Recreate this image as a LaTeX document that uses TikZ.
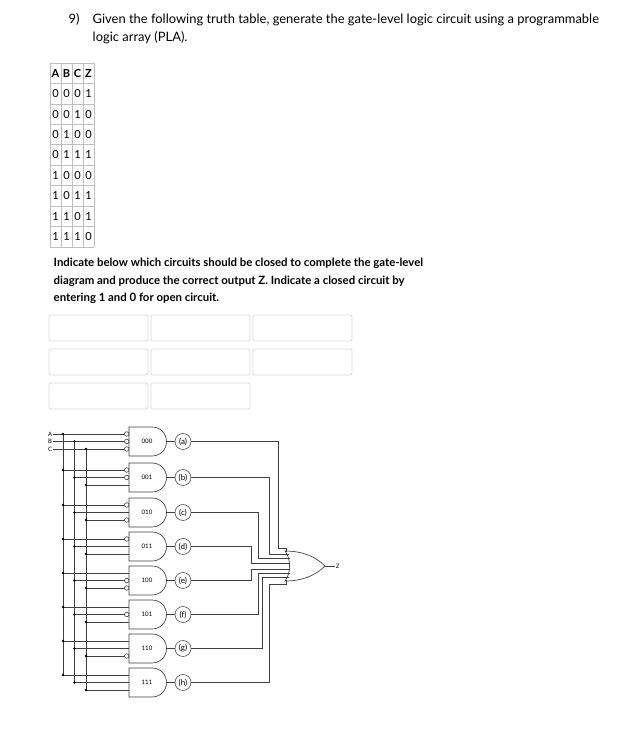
\documentclass[tikz,border=0pt]{standalone}
\usepackage{fontspec}
\setmainfont{Lato}
\begin{document}
\begin{tikzpicture}[x=0.75pt,y=-0.75pt,
  wire/.style={draw=black!75,line width=0.5pt},
  cellbox/.style={draw=black!25,line width=0.5pt},
  inbox/.style={draw=black!15,line width=0.6pt,rounded corners=1.5pt},
  bub/.style={circle,draw=black!75,fill=white,inner sep=0pt,minimum size=3.4pt,line width=0.45pt},
  lab/.style={circle,draw=black!75,inner sep=0pt,minimum size=12pt,font=\fontsize{6}{7}\selectfont},
  dot/.style={circle,fill=black,inner sep=0pt,minimum size=2.2pt}]
\useasboundingbox (0,0) rectangle (637,745);
% title
\node[anchor=base west,font=\fontsize{9.7}{11}\selectfont] (num) at (64,24) {9)};
\node[anchor=base west,font=\fontsize{9.7}{11}\selectfont] (t1) at (88,24) {Given the following truth table, generate the gate-level logic circuit using a programmable};
\node[anchor=base west,font=\fontsize{9.7}{11}\selectfont] (t2) at (88,42) {logic array (PLA).};
% truth table
\foreach \c in {50,61,72,83,94} \draw[cellbox] (\c,63) -- (\c,247);
\foreach \r in {0,...,9} \draw[cellbox] (50,63+\r*20.44) -- (94,63+\r*20.44);
\foreach \row [count=\r from 0] in {{A,B,C,Z},{0,0,0,1},{0,0,1,0},{0,1,0,0},{0,1,1,1},{1,0,0,0},{1,0,1,1},{1,1,0,1},{1,1,1,0}}{
  \foreach \v [count=\k from 0] in \row
    \node[font=\fontsize{8.3}{10}\selectfont,inner sep=0pt] (tt\r\k) at (55.5+\k*11,73.2+\r*20.44) {\ifnum\r=0\bfseries\fi\v};
}
% paragraph
\node[anchor=base west,font=\bfseries\fontsize{8.55}{10}\selectfont] (p1) at (49,266) {Indicate below which circuits should be closed to complete the gate-level};
\node[anchor=base west,font=\bfseries\fontsize{8.55}{10}\selectfont] (p2) at (49,284) {diagram and produce the correct output Z. Indicate a closed circuit by};
\node[anchor=base west,font=\bfseries\fontsize{8.55}{10}\selectfont] (p3) at (49,301) {entering 1 and 0 for open circuit.};
% answer boxes
\foreach \y in {315,349}{\foreach \x in {49,151,253}\draw[inbox] (\x,\y) rectangle (\x+99,\y+26);}
\foreach \x in {49,151}\draw[inbox] (\x,383) rectangle (\x+99,409);
% inputs
\foreach \n/\y in {A/434,B/441.5,C/449}{
  \node[font=\fontsize{4.5}{5}\selectfont,anchor=east,inner sep=0.5pt] (in\n) at (53,\y) {\n};
}
\draw[wire] (63,434) -- (63,675);
\draw[wire] (74.5,441.5) -- (74.5,682.5);
\draw[wire] (86,449) -- (86,690);
% gates
\foreach \T/\bits/\lt [count=\i from 0] in {427/000/a,463/001/b,498/010/c,532/011/d,566/100/e,600/101/f,634/110/g,668/111/h}{
  \foreach \b [count=\k from 0] in {A,B,C}{
    \pgfmathsetmacro\yy{\T+7+\k*7.5}
    \pgfmathsetmacro\xx{\k==0?63:(\k==1?74.5:86)}
    \ifnum\i=0
      \draw[wire] (in\b.east) -- (129,\yy);
    \else
      \draw[wire] (\xx,\yy) -- (129,\yy);
    \fi
    \node[dot] at (\xx,\yy) {};
  }
  \draw[wire,fill=white] (129,\T) -- (152,\T) .. controls (160.5,\T) and (166.5,\T+6.5) .. (166.5,\T+14.5)
     .. controls (166.5,\T+22.5) and (160.5,\T+29) .. (152,\T+29) -- (129,\T+29) -- cycle;
  \node[font=\fontsize{4.6}{5}\selectfont] (g\i) at (147,\T+14.5) {\bits};
  \node[lab] (l\i) at (183,\T+14.5) {(\lt)};
  \draw[wire] (166.5,\T+14.5) -- (l\i);
}
% bubbles for zeros
\foreach \T/\bA/\bB/\bC in {427/0/0/0,463/0/0/1,498/0/1/0,532/0/1/1,566/1/0/0,600/1/0/1,634/1/1/0,668/1/1/1}{
  \ifnum\bA=0 \node[bub] at (126.7,\T+7) {};\fi
  \ifnum\bB=0 \node[bub] at (126.7,\T+14.5) {};\fi
  \ifnum\bC=0 \node[bub] at (126.7,\T+22) {};\fi
}
% OR gate
\draw[wire,fill=white] (285,551) .. controls (291,558) and (291,574) .. (285,581)
  .. controls (303,581) and (316,575) .. (325,566)
  .. controls (316,557) and (303,551) .. (285,551) -- cycle;
\coordinate (orout) at (325,566);
\node[font=\fontsize{4.5}{5}\selectfont,anchor=west,inner sep=0.5pt] (z) at (335,566) {Z};
\draw[wire] (orout) -- (z.west);
% connections to OR
\draw[wire] (l0) -- (278,441.5) -- (278,548) -- (286,548) -- (286,552);
\draw[wire] (l1) -- (269,477.5) -- (269,554) -- (288.5,554);
\draw[wire] (l2) -- (258,512.5) -- (258,558) -- (289.5,558);
\draw[wire] (l3) -- (251,546.5) -- (251,563) -- (290,563);
\draw[wire] (l4) -- (251,580.5) -- (251,569) -- (290,569);
\draw[wire] (l5) -- (258,614.5) -- (258,573) -- (289.5,573);
\draw[wire] (l6) -- (262,648.5) -- (262,577) -- (288.5,577);
\draw[wire] (l7) -- (269,682.5) -- (269,584) -- (286,584) -- (286,580);
\end{tikzpicture}
\end{document}
